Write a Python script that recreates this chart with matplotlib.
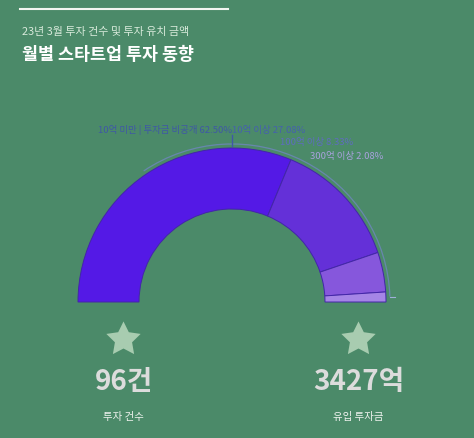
import numpy as np
import matplotlib.pyplot as plt
from matplotlib.patches import Arc

plt.rcParams['font.family'] = ['Noto Sans CJK KR', 'DejaVu Sans']

# 데이터
categories = ['10억 미만 | 투자금 비공개', '10억 이상', '100억 이상', '300억 이상']
shares = [62.50, 27.08, 8.33, 2.08]
seg_colors = ['#5419e6', '#6430d8', '#8657dc', '#a585e6']
label_colors = ['#3f58a6', '#4560ae', '#5e6cc0', '#a8a2dc']
stat_values = ['96건', '3427억']
stat_labels = ['투자 건수', '유입 투자금']

W, H = 474, 439
BG = '#4b8a69'

fig = plt.figure(figsize=(W / 100, H / 100), dpi=100, facecolor=BG)
ax = fig.add_axes([0, 0, 1, 1])
ax.set_facecolor(BG)


def py(y):
    # 픽셀 y(위에서부터) -> 데이터 y
    return H - y


cx, cy = 232, py(303)
R, ring = 154, 61

# 반원 도넛: 나머지 절반은 투명 조각으로
vals = shares + [sum(shares)]
cols = seg_colors + ['none']
wedges, _ = ax.pie(vals, colors=cols, startangle=180, counterclock=False,
                   center=(cx, cy), radius=R, frame=True,
                   wedgeprops=dict(width=ring, edgecolor='#4326a8', linewidth=0.7))
wedges[-1].set_edgecolor('none')

# 바깥쪽 얇은 라벨 라인
ax.add_patch(Arc((cx, cy), 2 * (R + 4), 2 * (R + 4), theta1=2, theta2=124,
                 color='#6f86bf', lw=0.9, alpha=0.8))
ax.plot([cx + R + 4, cx + R + 9], [py(298), py(298)], color='#9fb0d8', lw=0.8)
ax.plot([cx, cx], [py(147), py(136)], color='#3f58a6', lw=1)

# 라벨
lab = [f'{c} {v:.2f}%' for c, v in zip(categories, shares)]
ax.text(232, py(130), lab[0], ha='right', va='center', fontsize=6.8, color=label_colors[0])
ax.text(232, py(130), lab[1], ha='left', va='center', fontsize=6.8, color=label_colors[1])
ax.text(280, py(143), lab[2], ha='left', va='center', fontsize=6.8, color=label_colors[2])
ax.text(310, py(157), lab[3], ha='left', va='center', fontsize=6.8, color=label_colors[3])

# 제목
ax.plot([20, 228], [py(10), py(10)], color='#f2f5f0', lw=1.5)
ax.text(22, py(32), '23년 3월 투자 건수 및 투자 유치 금액', ha='left', va='center',
        fontsize=7.9, color='#d8eadb')
ax.text(22, py(55), '월별 스타트업 투자 동향', ha='left', va='center',
        fontsize=12.5, fontweight='bold', color='#ffffff')

# 통통한 별 마커
ang = np.pi / 2 + np.arange(10) * np.pi / 5
rad = np.where(np.arange(10) % 2 == 0, 1.0, 0.5)
star = np.column_stack([rad * np.cos(ang), rad * np.sin(ang)])

# 하단 통계
for x, v, l in zip([123, 358], stat_values, stat_labels):
    ax.plot(x, py(340), marker=star, markersize=26, color='#a8ccb0', markeredgewidth=0)
    ax.text(x + 1, py(382), v, ha='center', va='center', fontsize=20,
            fontweight='bold', color='#dcdcdc')
    ax.text(x, py(417), l, ha='center', va='center', fontsize=7.5, color='#eef2ee')

ax.set_xlim(0, W)
ax.set_ylim(0, H)
ax.set_aspect('auto')
ax.axis('off')

fig.savefig('out.png', dpi=100, facecolor=BG)
